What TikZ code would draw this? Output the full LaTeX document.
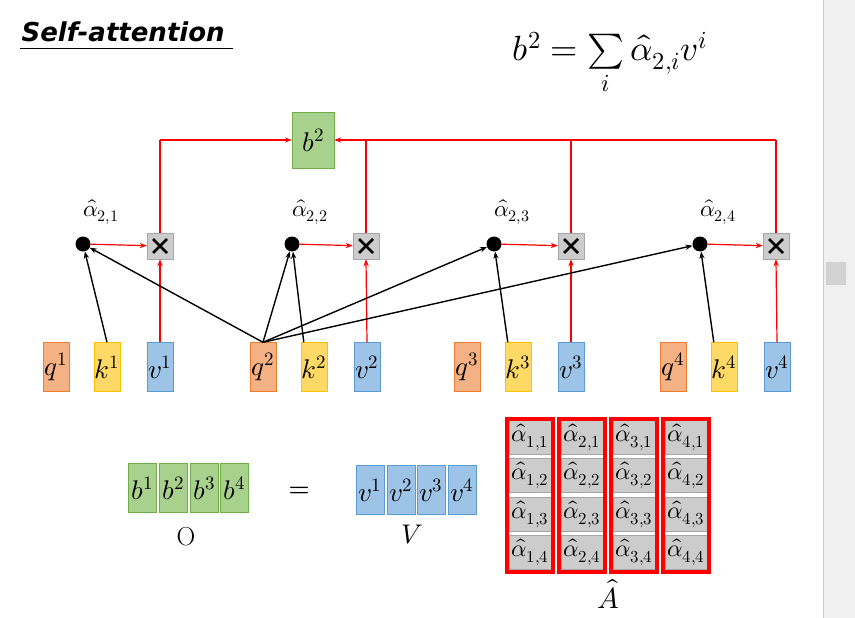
\documentclass[tikz,border=0pt]{standalone}
\usepackage{unicode-math}
\setmathfont{Latin Modern Math}
\setsansfont{DejaVu Sans}
\usetikzlibrary{arrows.meta}
\definecolor{qf}{HTML}{F4B183}\definecolor{qd}{HTML}{ED7D31}
\definecolor{kf}{HTML}{FFD966}\definecolor{kd}{HTML}{FFC000}
\definecolor{vf}{HTML}{9DC3E6}\definecolor{vd}{HTML}{5B9BD5}
\definecolor{gf}{HTML}{A9D18E}\definecolor{gd}{HTML}{70AD47}
\begin{document}
\begin{tikzpicture}[x=1pt,y=-1pt,
 box/.style={draw,minimum width=26pt,minimum height=49pt,inner sep=0pt,font=\fontsize{27}{30}\selectfont},
 qb/.style={box,fill=qf,draw=qd},kb/.style={box,fill=kf,draw=kd},vb/.style={box,fill=vf,draw=vd},
 gb/.style={box,fill=gf,draw=gd,minimum width=28pt},
 xb/.style={draw=gray!70,fill=gray!40,minimum size=26pt,inner sep=0pt,
   path picture={\draw[black,line width=2.6pt] ([shift={(6pt,6pt)}]path picture bounding box.south west) -- ([shift={(-6pt,-6pt)}]path picture bounding box.north east);
   \draw[black,line width=2.6pt] ([shift={(6pt,-6pt)}]path picture bounding box.north west) -- ([shift={(-6pt,6pt)}]path picture bounding box.south east);}},
 dot/.style={circle,fill=black,minimum size=15pt,inner sep=0pt},
 blk/.style={-{Stealth[length=7pt]},line width=1.4pt},
 rd/.style={red,-{Stealth[length=7pt]},line width=1.2pt},
 rline/.style={red,line width=2.5pt},
 cell/.style={draw=gray!70,fill=gray!40,minimum width=42pt,minimum height=34pt,inner sep=0pt,font=\fontsize{24}{26}\selectfont},
 lab/.style={font=\fontsize{23}{24}\selectfont}]
\useasboundingbox (0,0) rectangle (855,618);
\fill[gray!12] (823,0) rectangle (855,618);
\draw[gray!40] (823,0) -- (823,618);
\fill[gray!35] (826,262) rectangle (846,285);
\node[anchor=west,font=\sffamily\bfseries\itshape\fontsize{26}{28}\selectfont] (title) at (18,32) {Self-attention};
\draw[line width=1pt] (20,49) -- (233,49);
\node[font=\fontsize{35}{38}\selectfont] (eq) at (610,64) {$b^2=\sum\limits_i \hat\alpha_{2,i}v^i$};
\node[gb,minimum width=42pt,minimum height=56pt] (b) at (313,140) {$b^2$};
\foreach \i/\dx/\xx in {1/83/160,2/292/366,3/494/571,4/700/776}{
 \node[dot] (d\i) at (\dx,244) {};
 \node[lab] (l\i) at (\dx+18,212) {$\hat\alpha_{2,\i}$};
 \node[xb] (x\i) at (\xx,246) {};
 \draw[rd] (d\i) -- (x\i);
}
\foreach \i/\qx in {1/56,2/263,3/467,4/673}{
 \node[qb] (q\i) at (\qx,367) {$q^\i$};
 \node[kb] (k\i) at (\qx+51,367) {$k^\i$};
 \node[vb] (v\i) at (\qx+104,367) {$v^\i$};
}
\foreach \i in {1,...,4}{\draw[rd] (v\i.north) -- (x\i.south);}
\draw[rline] (x1.north) -- (160,140) coordinate (c1);
\draw[rline] (x2.north) -- (366,140) coordinate (c2);
\draw[rline] (x3.north) -- (571,140) coordinate (c3);
\draw[rline] (x4.north) -- (776,140) coordinate (c4);
\draw[rd,line width=2pt] (c1) -- (b.west);
\draw[rd,line width=2pt] (c4) -- (b.east);
\draw[blk] (k1.north) -- (d1);
\foreach \i in {2,3,4}{\draw[blk] (k\i.north west) ++(3,0) -- (d\i);}
\foreach \i in {1,...,4}{\draw[blk] (q2.north) -- (d\i);}
\foreach \i/\x in {1/142,2/173,3/204,4/234}{\node[gb] (o\i) at (\x,488) {$b^\i$};}
\node[font=\fontsize{24}{24}\selectfont\bfseries] (eqs) at (299,492) {=};
\foreach \i/\x in {1/370,2/401,3/431,4/462}{\node[vb,minimum width=28pt] (w\i) at (\x,490) {$v^\i$};}
\node[font=\fontsize{26}{28}\selectfont] (O) at (186,537) {O};
\node[font=\fontsize{27}{28}\selectfont] (V) at (412,535) {$V$};
\foreach \c/\x in {1/530,2/582,3/634,4/686}{
 \foreach \r/\y in {1/437,2/475,3/514,4/552}{\node[cell] (m\c\r) at (\x,\y) {$\hat\alpha_{\c,\r}$};}
 \draw[red,line width=3.5pt] (\x-23,419) rectangle (\x+23,572);
}
\node[font=\fontsize{29}{30}\selectfont] (A) at (608,594) {$\hat A$};
\end{tikzpicture}
\end{document}
